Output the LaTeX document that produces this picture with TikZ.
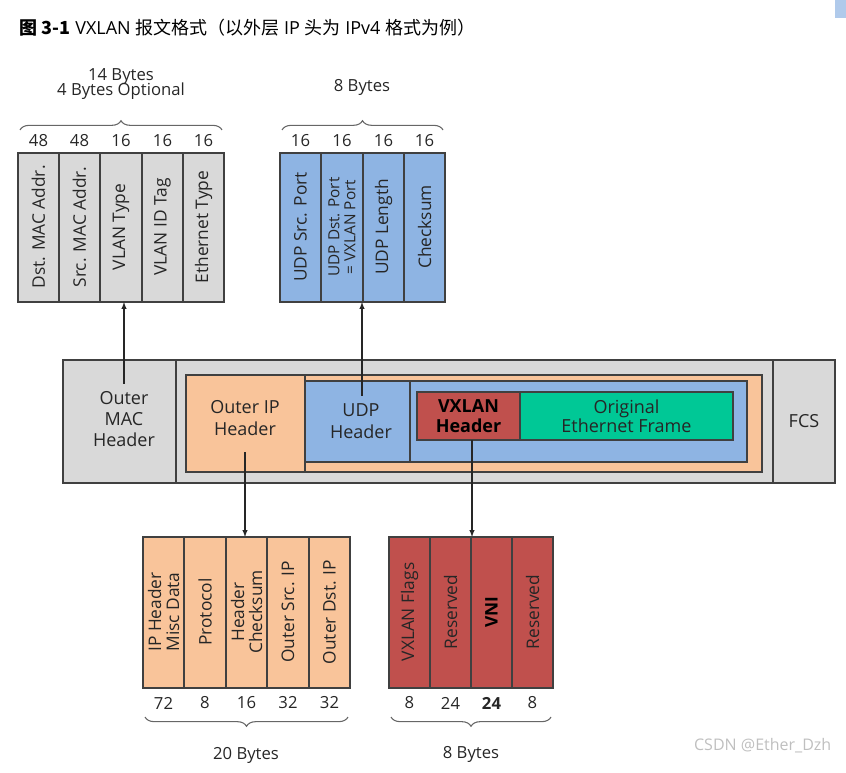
\documentclass[tikz,border=0pt]{standalone}
\usepackage{fontspec}
\setmainfont{Open Sans}
\newfontfamily\cjk{Noto Sans CJK SC}
\usetikzlibrary{decorations.pathreplacing}
\definecolor{gr}{HTML}{D9D9D9}
\definecolor{bl}{HTML}{8EB4E3}
\definecolor{og}{HTML}{F9C49A}
\definecolor{rd}{HTML}{C0504D}
\definecolor{gn}{HTML}{00C896}
\begin{document}
\begin{tikzpicture}[x=0.75pt,y=-0.75pt,
  box/.style={draw=black!75,line width=0.8pt},
  lbl/.style={font=\fontsize{12.5}{13.5}\selectfont,align=center,text=black!85},
  fld/.style={rotate=90,font=\fontsize{13}{13.5}\selectfont,align=center,text=black!85},
  num/.style={font=\fontsize{12.5}{13}\selectfont,text=black!85},
  br/.style={decorate,decoration={brace,amplitude=7pt},draw=black!60,line width=0.8pt},
  arr/.style={-latex,draw=black!85,line width=0.8pt}]
\useasboundingbox (0,0) rectangle (846,773);
\node[anchor=west,font=\fontsize{13.5}{14}\selectfont] (title) at (15,28) {{\cjk\bfseries 图 3-1} VXLAN {\cjk 报文格式（以外层} IP {\cjk 头为} IPv4 {\cjk 格式为例）}};
\fill[bl!70] (835,0) rectangle (846,18);
% MAC box
\draw[box,fill=gr] (18,153) rectangle (224,302);
\foreach \x in {59,100,142,183} \draw[box] (\x,153) -- (\x,302);
\node[fld] (m1) at (38.5,227) {Dst. MAC Addr.};
\node[fld] (m2) at (79.5,227) {Src. MAC Addr.};
\node[fld] (m3) at (121,227) {VLAN Type};
\node[fld] (m4) at (162.5,227) {VLAN ID Tag};
\node[fld] (m5) at (203.5,227) {Ethernet Type};
\foreach \x/\t [count=\i] in {38.5/48,79.5/48,121/16,162.5/16,203.5/16} \node[num] (mn\i) at (\x,141) {\t};
\draw[br] (20,130) -- (222,130);
\node[lbl,align=center] (mb) at (121,84) {14 Bytes\\[-2pt]4 Bytes Optional};
% UDP box
\draw[box,fill=bl] (280,153) rectangle (445,302);
\foreach \x in {321,363,404} \draw[box] (\x,153) -- (\x,302);
\node[fld] (u1) at (300.5,227) {UDP Src. Port};
\node[fld,font=\fontsize{11.5}{12}\selectfont] (u2) at (342,227) {UDP Dst. Port\\= VXLAN Port};
\node[fld] (u3) at (383.5,227) {UDP Length};
\node[fld] (u4) at (424.5,227) {Checksum};
\foreach \x [count=\i] in {300.5,342,383.5,424.5} \node[num] (un\i) at (\x,141) {16};
\draw[br] (282,130) -- (443,130);
\node[lbl] (ub) at (362,87) {8 Bytes};
% main frame
\draw[box,fill=gr] (63,360) rectangle (835,483);
\draw[box] (176,360) -- (176,483);
\draw[box] (773,360) -- (773,483);
\node[lbl,font=\fontsize{13.5}{16}\selectfont] (omac) at (124,419) {Outer\\MAC\\Header};
\node[lbl,font=\fontsize{13.5}{16}\selectfont] (fcs) at (804,421) {FCS};
\draw[box,fill=og] (186,375) rectangle (762,472);
\draw[box] (305,375) -- (305,472);
\node[lbl,font=\fontsize{13.5}{16}\selectfont] (oip) at (245,418) {Outer IP\\Header};
\draw[box,fill=bl] (305,381) rectangle (747,462);
\draw[box] (410,381) -- (410,462);
\node[lbl,font=\fontsize{13.5}{16}\selectfont] (udp) at (361,421) {UDP\\Header};
\draw[box,fill=rd] (417,392) rectangle (520,440);
\draw[box,fill=gn] (520,392) rectangle (733,440);
\node[lbl,font=\fontsize{13.5}{14.5}\selectfont\bfseries,text=black] (vx) at (468.5,416) {VXLAN\\Header};
\node[lbl,font=\fontsize{13.5}{14.5}\selectfont] (orig) at (626.5,416) {Original\\Ethernet Frame};
% arrows
\coordinate (macTop) at (124,302);
\coordinate (udpTop) at (362,302);
\coordinate (ipTop) at (245,537);
\coordinate (vxTop) at (472,537);
\draw[arr] (124,384) -- (macTop);
\draw[arr] (362,396) -- (udpTop);
\draw[arr] (245,452) -- (ipTop);
\draw[arr] (472,440) -- (vxTop);
% IP box
\draw[box,fill=og] (143,537) rectangle (350,688);
\foreach \x in {184,226,267,309} \draw[box] (\x,537) -- (\x,688);
\node[fld] (i1) at (163.5,612) {IP Header\\Misc Data};
\node[fld] (i2) at (205,612) {Protocol};
\node[fld] (i3) at (246.5,612) {Header\\Checksum};
\node[fld] (i4) at (288,612) {Outer Src. IP};
\node[fld] (i5) at (329.5,612) {Outer Dst. IP};
\foreach \x/\t [count=\i] in {163.5/72,205/8,246.5/16,288/32,329.5/32} \node[num] (in\i) at (\x,703) {\t};
\draw[br] (348,717) -- (145,717);
\node[lbl] (ib) at (246,755) {20 Bytes};
% VXLAN box
\draw[box,fill=rd] (389,537) rectangle (553,688);
\foreach \x in {430,471,512} \draw[box] (\x,537) -- (\x,688);
\node[fld] (v1) at (409.5,612) {VXLAN Flags};
\node[fld] (v2) at (450.5,612) {Reserved};
\node[fld,font=\fontsize{13}{13.5}\selectfont\bfseries,text=black] (v3) at (491.5,612) {VNI};
\node[fld] (v4) at (532.5,612) {Reserved};
\foreach \x/\t [count=\i] in {409.5/8,450.5/24,532.5/8} \node[num] (vn\i) at (\x,703) {\t};
\node[num,font=\fontsize{12.5}{13}\selectfont\bfseries] (vn4) at (491.5,703) {24};
\draw[br] (551,717) -- (391,717);
\node[lbl] (vb) at (471,754) {8 Bytes};
\node[font=\fontsize{12}{13}\selectfont,text=black!25,anchor=east] (wm) at (836,746) {CSDN @Ether\_Dzh};
\end{tikzpicture}
\end{document}
